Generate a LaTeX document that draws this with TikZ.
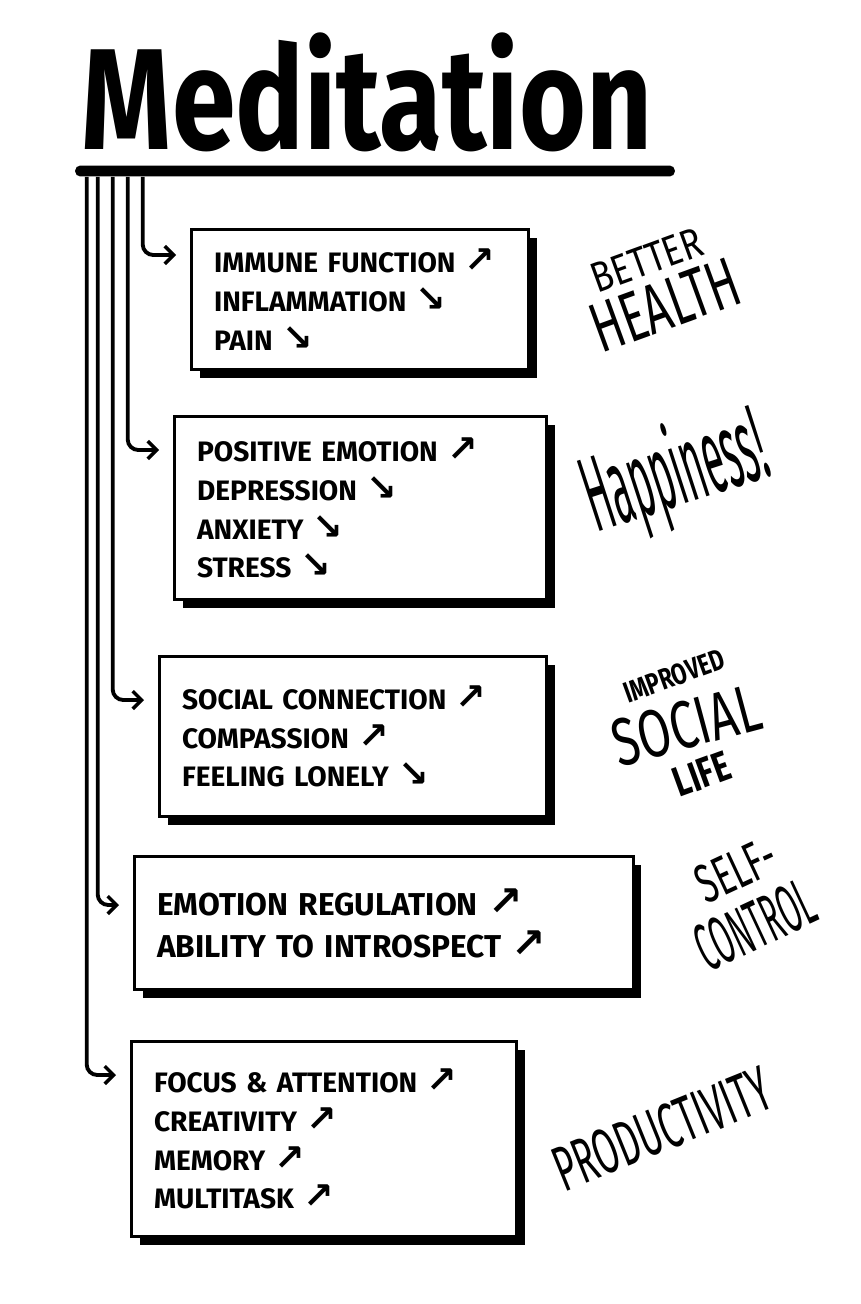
\documentclass[tikz,border=0pt]{standalone}
\usepackage{fontspec}
\setmainfont{Fira Sans}
\newfontfamily\symfont{DejaVu Sans}
\usetikzlibrary{arrows.meta,calc,shadows}
\newcommand{\arrup}{\scalebox{1.3}{\symfont\bfseries\char"2197}}
\newcommand{\arrdown}{\scalebox{1.3}{\symfont\bfseries\char"2198}}

\begin{document}
\begin{tikzpicture}[x=0.02cm, y=-0.02cm,
    fx/.style={draw, line width=1.8pt, fill=white, anchor=north west, align=left, inner xsep=0.45cm,
      font=\bfseries\fontsize{16}{22}\selectfont,
      drop shadow={shadow xshift=0.16cm, shadow yshift=-0.16cm, fill=black, opacity=1}},
    branch/.style={line width=2.2pt, rounded corners=6pt, shorten >=0.28cm,
      -{Straight Barb[length=5pt,width=10pt,line width=2pt]}},
    sidenote/.style={inner sep=0pt, font=\fontsize{#1}{#1}\selectfont}]
  \useasboundingbox (0,0) rectangle (861,1304);

  \node[anchor=base, inner sep=0pt, font=\bfseries\fontsize{64}{64}\selectfont] (title) at (367,150) {\scalebox{1.02}[1.28]{Meditation}};
  \node[fill=black, rounded corners=3pt, minimum width=12cm, minimum height=0.22cm, inner sep=0pt] (bar) at (375,171) {};

  \node[fx, text width=5.84cm, minimum height=2.8cm] (health) at (190,228) {IMMUNE FUNCTION \arrup\\INFLAMMATION \arrdown\\PAIN \arrdown};
  \node[fx, text width=6.54cm, minimum height=3.66cm] (happy) at (173,415) {POSITIVE EMOTION \arrup\\DEPRESSION \arrdown\\ANXIETY \arrdown\\STRESS \arrdown};
  \node[fx, text width=6.84cm, minimum height=3.2cm] (social) at (158,655) {SOCIAL CONNECTION \arrup\\COMPASSION \arrup\\FEELING LONELY \arrdown};
  \node[fx, text width=9.08cm, minimum height=2.66cm, font=\bfseries\fontsize{18}{24}\selectfont] (control) at (133,855) {EMOTION REGULATION \arrup\\ABILITY TO INTROSPECT \arrup};
  \node[fx, text width=6.8cm, minimum height=3.9cm] (work) at (130,1040) {FOCUS \& ATTENTION \arrup\\CREATIVITY \arrup\\MEMORY \arrup\\MULTITASK \arrup};

  \coordinate (o1) at ($(bar.south west)+(68,0)$);
  \coordinate (o2) at ($(bar.south west)+(53,0)$);
  \coordinate (o3) at ($(bar.south west)+(38,0)$);
  \coordinate (o4) at ($(bar.south west)+(23,0)$);
  \coordinate (o5) at ($(bar.south west)+(12,0)$);

  \draw[branch] (o1) |- ($(health.north west)+(0,27)$);
  \draw[branch] (o2) |- ($(happy.north west)+(0,35)$);
  \draw[branch] (o3) |- ($(social.north west)+(0,45)$);
  \draw[branch] (o4) |- ($(control.north west)+(0,50)$);
  \draw[branch] (o5) |- ($(work.north west)+(0,35)$);

  \node[sidenote=22, rotate=20] (better) at (647,260) {\scalebox{0.9}[1.1]{BETTER}};
  \node[sidenote=32, rotate=20] (healthlbl) at (665,305) {\scalebox{0.8}[1.25]{HEALTH}};
  \node[sidenote=38, rotate=18] (happylbl) at (676,475) {\scalebox{0.56}[1.6]{Happiness!}};
  \node[sidenote=14, rotate=20] (improved) at (674,676) {\scalebox{0.9}[1.2]{\bfseries IMPROVED}};
  \node[sidenote=32, rotate=15] (sociallbl) at (686,725) {\scalebox{0.85}[1.2]{SOCIAL}};
  \node[sidenote=20, rotate=20] (life) at (702,774) {\scalebox{0.9}[1.2]{\bfseries LIFE}};
  \node[sidenote=24, rotate=25] (self) at (736,870) {\scalebox{0.8}[1.3]{SELF-}};
  \node[sidenote=24, rotate=25] (controllbl) at (755,925) {\scalebox{0.7}[1.6]{CONTROL}};
  \node[sidenote=28, rotate=22] (worklbl) at (662,1129) {\scalebox{0.72}[1.3]{PRODUCTIVITY}};
\end{tikzpicture}
\end{document}
